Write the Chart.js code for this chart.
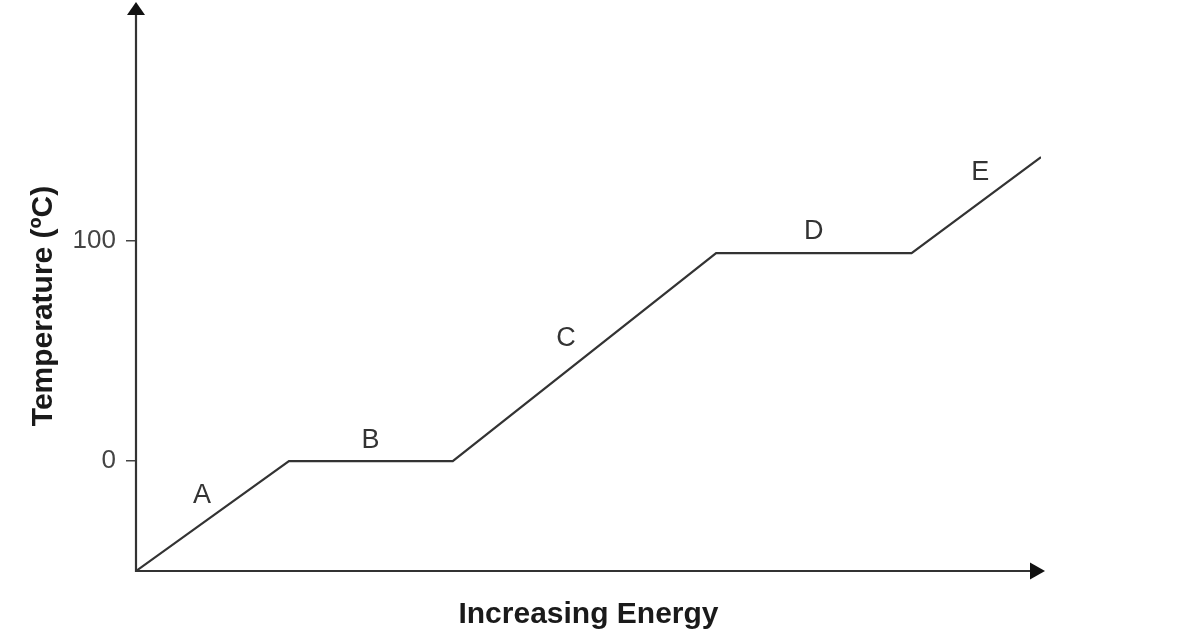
<!DOCTYPE html>
<html>
<head>
<meta charset="utf-8">
<script src="https://cdn.jsdelivr.net/npm/chart.js@4.4.1/dist/chart.umd.min.js"></script>
<style>
  html, body { margin: 0; padding: 0; background: #fff; }
  #wrap { width: 1198px; height: 642px; position: relative; }
</style>
</head>
<body>
<div id="wrap"><canvas id="heatingCurve"></canvas></div>
<script>
// heating curve, energy in arbitrary units (0-100), temperature in degrees C
var energy = [0, 16.9, 35.0, 64.1, 85.7, 100];
var temperature = [-50, 0, 0, 94.5, 94.5, 138.2];
var yTicks = [0, 100];

// phase labels sitting next to each segment
var phaseNames = ['A', 'B', 'C', 'D', 'E'];
var phaseX = [7.3, 25.9, 47.5, 74.9, 93.3];
var phaseY = [-15.5, 9.1, 55.9, 104.5, 131.4];

var axisTitleX = 'Increasing Energy';
var axisTitleY = 'Temperature (ºC)';

var points = [];
for (var i = 0; i < energy.length; i++) {
    points.push({x: energy[i], y: temperature[i]});
}

var inkColor = '#333333';

// axis lines with arrowheads, drawn past the chart area like the sketch
var arrowAxes = {
    id: 'arrowAxes',
    afterDatasetsDraw: function (chart) {
        var ctx = chart.ctx;
        var area = chart.chartArea;
        var x0 = area.left, y0 = area.bottom;
        var topY = 2, rightX = area.right + 4;
        ctx.save();
        ctx.strokeStyle = inkColor;
        ctx.lineWidth = 2.2;
        ctx.beginPath();
        ctx.moveTo(x0, y0 + 1);
        ctx.lineTo(x0, topY + 10);
        ctx.moveTo(x0 - 1, y0);
        ctx.lineTo(rightX - 10, y0);
        ctx.stroke();
        ctx.fillStyle = '#111';
        ctx.beginPath();
        ctx.moveTo(x0, topY);
        ctx.lineTo(x0 - 9, topY + 13);
        ctx.lineTo(x0 + 9, topY + 13);
        ctx.closePath();
        ctx.fill();
        ctx.beginPath();
        ctx.moveTo(rightX, y0);
        ctx.lineTo(rightX - 15, y0 - 8.5);
        ctx.lineTo(rightX - 15, y0 + 8.5);
        ctx.closePath();
        ctx.fill();
        ctx.restore();
    }
};

var phaseLabels = {
    id: 'phaseLabels',
    afterDatasetsDraw: function (chart) {
        var ctx = chart.ctx;
        var xs = chart.scales.x, ys = chart.scales.y;
        ctx.save();
        ctx.font = '27px "Liberation Sans", Arial, sans-serif';
        ctx.fillStyle = inkColor;
        ctx.textAlign = 'center';
        ctx.textBaseline = 'middle';
        for (var i = 0; i < phaseNames.length; i++) {
            ctx.fillText(phaseNames[i], xs.getPixelForValue(phaseX[i]), ys.getPixelForValue(phaseY[i]));
        }
        ctx.restore();
    }
};

new Chart(document.getElementById('heatingCurve').getContext('2d'), {
    type: 'line',
    data: {
        datasets: [{
            data: points,
            borderColor: inkColor,
            borderWidth: 2.2,
            pointRadius: 0,
            tension: 0,
            fill: false
        }]
    },
    options: {
        responsive: true,
        maintainAspectRatio: false,
        animation: false,
        layout: { padding: { top: 41, right: 157, left: 0, bottom: 0 } },
        plugins: { legend: { display: false }, tooltip: { enabled: false } },
        scales: {
            x: {
                type: 'linear',
                min: 0,
                max: 100,
                grid: { display: false },
                border: { display: false },
                ticks: { display: false },
                title: {
                    display: true,
                    text: axisTitleX,
                    color: '#1a1a1a',
                    font: { family: '"Liberation Sans", Arial, sans-serif', size: 30, weight: 'bold', lineHeight: 1.2 },
                    padding: { top: 0, bottom: 9 }
                },
                afterFit: function (scale) { scale.height = 71; }
            },
            y: {
                type: 'linear',
                min: -50,
                max: 191,
                grid: { display: true, drawOnChartArea: false, tickLength: 10, color: '#444', lineWidth: 1.5 },
                border: { display: false },
                afterBuildTicks: function (scale) {
                    scale.ticks = yTicks.map(function (v) { return {value: v}; });
                },
                ticks: {
                    padding: 10,
                    color: '#444',
                    font: { family: '"Liberation Sans", Arial, sans-serif', size: 26 }
                },
                title: {
                    display: true,
                    text: axisTitleY,
                    color: '#1a1a1a',
                    font: { family: '"Liberation Sans", Arial, sans-serif', size: 30, weight: 'bold', lineHeight: 1.2 },
                    padding: { top: 26, bottom: 0 }
                },
                afterFit: function (scale) { scale.width = 136; }
            }
        }
    },
    plugins: [arrowAxes, phaseLabels]
});
</script>
</body>
</html>
